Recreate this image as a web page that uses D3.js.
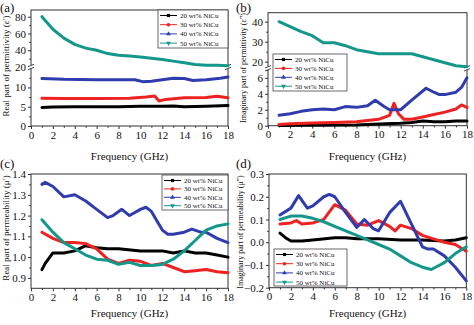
<!DOCTYPE html>
<html>
<head>
<meta charset="utf-8">
<script src="https://cdn.jsdelivr.net/npm/d3@7"></script>
<style>
	body { margin: 0; background: #fff; }
	svg { display: block; }
	svg text { font-family: "Times New Roman", serif; }
	.legend text { font-size: 7px; }
</style>
</head>
<body>
<svg id="chart" width="474" height="325"></svg>
<script>
// ---- data ----
const seriesNames = ['20 wt% NiCu', '30 wt% NiCu', '40 wt% NiCu', '50 wt% NiCu'];
const seriesColors = ['#000000', '#ee2222', '#2f3cae', '#14978b'];
const markerShapes = ['square', 'circle', 'triangle', 'triangleDown'];
const freqTicks = [0, 2, 4, 6, 8, 10, 12, 14, 16, 18];

// (a) real permittivity
const epsReal20 = [[1,4.8],[2,4.9],[4,5.0],[6,5.0],[8,5.0],[10,5.1],[12,5.1],[13,5.2],[14,5.0],[16,5.1],[18,5.3]];
const epsReal30 = [[1,7.2],[3,7.1],[6,7.1],[9,7.2],[10.5,7.5],[11.3,7.8],[11.7,6.5],[12.3,6.9],[14,7.3],[16,7.4],[17,7.7],[18,7.3]];
const epsReal40 = [[1,12.3],[3,12.1],[6,12.0],[9.5,12.0],[10.2,11.5],[11,11.6],[12,12.0],[13,12.4],[14,12.3],[14.8,11.8],[16,12.0],[17.3,12.4],[18,12.7]];
const epsReal50 = [[1,80],[2,65],[3,54.5],[4,47],[5,42.5],[6,40],[7,36],[8,34],[9,33],[10,32],[11,30.5],[12,29],[13,27],[14,25],[15,23],[16,22],[17,22],[18,21.5]];

// (b) imaginary permittivity
const epsImag20 = [[1,0.02],[4,0.05],[8,0.1],[10,0.2],[12,0.3],[13,0.4],[14,0.6],[15,0.5],[16,0.5],[17,0.6],[18,0.6]];
const epsImag30 = [[1,0.15],[2,0.25],[4,0.35],[6,0.4],[8,0.5],[10,0.8],[11,1.3],[11.4,2.8],[11.8,1.5],[12.3,0.8],[13,0.8],[14,1.1],[15,1.4],[16,1.7],[17,2.1],[17.5,2.6],[18,2.3]];
const epsImag40 = [[1,1.3],[2,1.5],[3,1.8],[4,2.0],[5,2.1],[6,2.0],[7,2.4],[8,2.3],[9,2.5],[9.7,3.2],[10.5,2.4],[11,2.0],[12,2.0],[13,3.2],[14.3,4.7],[15,4.2],[15.5,3.9],[16,3.9],[17,4.2],[17.5,4.8],[18,6.0]];
const epsImag50 = [[1,40],[2,37.5],[3,35],[4,33],[5,29.5],[6,29.5],[7,28],[8,26],[9,25],[10,24],[11,24],[12,24],[13,24],[14,22.5],[15,21],[16,19.5],[17,18],[18,17.5]];

// (c) real permeability
const muReal20 = [[1,0.94],[1.3,0.97],[2,1.02],[3,1.02],[4,1.03],[5,1.055],[6,1.045],[7,1.04],[8,1.04],[10,1.03],[12,1.03],[13,1.02],[14,1.03],[15,1.02],[16,1.02],[17,1.01],[18,1.0]];
const muReal30 = [[1,1.12],[2,1.09],[3,1.07],[4,1.07],[5,1.065],[6,1.04],[7,0.99],[8,0.97],[9,0.985],[10,0.98],[11,0.96],[12,0.97],[13,0.95],[14,0.93],[15,0.935],[16,0.94],[17,0.93],[18,0.925]];
const muReal40 = [[1,1.35],[1.3,1.36],[2,1.34],[3,1.29],[4,1.30],[5,1.27],[6,1.23],[7,1.19],[7.5,1.20],[8.3,1.23],[9,1.20],[10,1.23],[10.5,1.24],[11,1.22],[12,1.13],[12.5,1.11],[13,1.11],[14,1.12],[14.7,1.135],[15.5,1.12],[16,1.12],[17,1.09],[18,1.07]];
const muReal50 = [[1,1.18],[2,1.12],[3,1.07],[4,1.04],[5,1.01],[6,0.99],[7,0.985],[8,0.965],[9,0.975],[10,0.96],[11,0.96],[12,0.965],[13,0.99],[14,1.03],[15,1.08],[16,1.13],[17,1.15],[18,1.16]];

// (d) imaginary permeability
const muImag20 = [[1,0.04],[1.5,0.02],[2,0.005],[3,0.005],[4,0.01],[6,0.02],[7,0.02],[8,0.015],[10,0.015],[12,0.01],[14,0.01],[16,0.005],[17,0.01],[18,0.02]];
const muImag30 = [[1,0.08],[2,0.085],[2.5,0.095],[3,0.08],[4,0.085],[5,0.1],[6,0.165],[7,0.14],[8,0.08],[9,0.075],[10,0.095],[11,0.07],[11.5,0.05],[12,0.075],[13,0.06],[14,0.03],[15,0.015],[16,0.0],[17,-0.01],[18,-0.04]];
const muImag40 = [[1,0.12],[2,0.15],[2.7,0.205],[3.5,0.15],[4,0.16],[5,0.2],[5.5,0.21],[6,0.2],[7,0.13],[8,0.065],[8.7,0.1],[9.5,0.06],[10,0.05],[11,0.13],[12,0.18],[13,0.08],[14,-0.02],[14.5,-0.03],[15,-0.03],[16,-0.06],[17,-0.11],[18,-0.17]];
const muImag50 = [[1,0.10],[2,0.115],[3,0.115],[4,0.105],[5,0.09],[6,0.07],[7,0.05],[8,0.03],[9,0.01],[10,-0.01],[11,-0.03],[12,-0.06],[13,-0.09],[14,-0.11],[14.8,-0.12],[16,-0.09],[17,-0.05],[18,-0.02]];

const svg = d3.select('#chart');
const FONT = '"Times New Roman", serif';

const symbolTypes = {
	square: d3.symbolSquare,
	circle: d3.symbolCircle,
	triangle: d3.symbolTriangle,
	triangleDown: d3.symbolTriangle
};

function drawPanel (cfg) {
	const g = svg.append('g');
	const x = d3.scaleLinear().domain([0, 18]).range([cfg.left, cfg.right]);

	// y segments (a broken axis has two)
	const segs = cfg.segments.map(s => ({
		...s,
		scale: d3.scaleLinear().domain(s.domain).range(s.range)
	}));

	// frame
	g.append('rect')
		.attr('x', cfg.left).attr('y', cfg.top)
		.attr('width', cfg.right - cfg.left).attr('height', cfg.bottom - cfg.top)
		.attr('fill', 'none').attr('stroke', '#333').attr('stroke-width', 1);

	// x axis
	const xAxis = g.append('g')
		.attr('transform', `translate(0,${cfg.bottom})`)
		.call(d3.axisBottom(x).tickValues(freqTicks).tickSize(3).tickPadding(2).tickFormat(d3.format('d')));
	xAxis.attr('font-family', null);
	xAxis.select('.domain').remove();
	xAxis.selectAll('text').attr('font-size', 11).attr('fill', '#111');
	xAxis.selectAll('line').attr('stroke', '#333');
	g.append('g')
		.attr('transform', `translate(0,${cfg.bottom})`)
		.call(d3.axisBottom(x).tickValues(d3.range(1, 18, 2)).tickSize(1.8).tickFormat(''))
		.call(a => a.select('.domain').remove())
		.selectAll('line').attr('stroke', '#333');

	// y axes
	segs.forEach(s => {
		const ya = g.append('g')
			.attr('transform', `translate(${cfg.left},0)`)
			.call(d3.axisLeft(s.scale).tickValues(s.ticks).tickSize(3).tickPadding(2).tickFormat(cfg.yFormat));
		ya.attr('font-family', null);
		ya.select('.domain').remove();
		ya.selectAll('text').attr('font-size', 11).attr('fill', '#111');
		ya.selectAll('line').attr('stroke', '#333');
		g.append('g')
			.attr('transform', `translate(${cfg.left},0)`)
			.call(d3.axisLeft(s.scale).tickValues(s.minor).tickSize(1.8).tickFormat(''))
			.call(a => a.select('.domain').remove())
			.selectAll('line').attr('stroke', '#333');
	});

	// break marks
	if (segs.length > 1) {
		const by = segs[0].range[1];
		[cfg.left, cfg.right].forEach(bx => {
			g.append('rect').attr('x', bx - 3).attr('y', by - 1.5).attr('width', 6).attr('height', 3).attr('fill', '#fff');
			[-1.5, 1.5].forEach(dy => {
				g.append('line')
					.attr('x1', bx - 3).attr('y1', by + dy + 1.2)
					.attr('x2', bx + 3).attr('y2', by + dy - 1.2)
					.attr('stroke', '#333').attr('stroke-width', 0.9);
			});
		});
	}

	// curves
	cfg.series.forEach((data, i) => {
		const s = segs[cfg.seriesSeg ? cfg.seriesSeg[i] : 0].scale;
		const line = d3.line().x(d => x(d[0])).y(d => s(d[1]));
		g.append('path')
			.attr('d', line(data))
			.attr('fill', 'none')
			.attr('stroke', seriesColors[i])
			.attr('stroke-width', 3)
			.attr('stroke-linejoin', 'round')
			.attr('stroke-linecap', 'round');
	});

	// legend
	const L = cfg.legend;
	const lg = g.append('g').attr('class', 'legend');
	lg.append('rect')
		.attr('x', L.x).attr('y', L.y).attr('width', L.w).attr('height', L.h)
		.attr('fill', '#fff').attr('stroke', '#444').attr('stroke-width', 0.8);
	seriesNames.forEach((name, i) => {
		const ry = L.y + 5.5 + i * L.step;
		lg.append('line')
			.attr('x1', L.x + 2).attr('x2', L.x + 19)
			.attr('y1', ry).attr('y2', ry)
			.attr('stroke', seriesColors[i]).attr('stroke-width', 1);
		lg.append('path')
			.attr('d', d3.symbol(symbolTypes[markerShapes[i]], 10)())
			.attr('transform', `translate(${L.x + 10.5},${ry})` + (markerShapes[i] === 'triangleDown' ? 'rotate(180)' : ''))
			.attr('fill', seriesColors[i]);
		lg.append('text')
			.attr('x', L.x + 22).attr('y', ry + 2.4)
			.attr('fill', '#111')
			.text(name);
	});

	// labels
	g.append('text')
		.attr('x', (cfg.left + cfg.right) / 2).attr('y', cfg.xLabelY)
		.attr('text-anchor', 'middle').attr('font-size', 11).attr('fill', '#111')
		.text('Frequency (GHz)');
	g.append('text')
		.attr('transform', `translate(${cfg.yLabelX},${cfg.yLabelMid})rotate(-90)`)
		.attr('text-anchor', 'middle').attr('font-size', cfg.yLabelSize).attr('fill', '#111')
		.text(cfg.yLabel);
	g.append('text')
		.attr('x', cfg.tagX).attr('y', cfg.tagY)
		.attr('font-size', 13).attr('fill', '#111')
		.text(cfg.tag);
}

drawPanel({
	tag: '(a)', tagX: 0, tagY: 12,
	left: 31, right: 228, top: 10, bottom: 126,
	segments: [
		{ domain: [0, 15.3], range: [126, 67], ticks: [0, 5, 10], minor: [2.5, 7.5, 12.5] },
		{ domain: [20, 88], range: [67, 10], ticks: [20, 40, 60, 80], minor: [30, 50, 70] }
	],
	seriesSeg: [0, 0, 0, 1],
	yFormat: d3.format('d'),
	series: [epsReal20, epsReal30, epsReal40, epsReal50],
	legend: { x: 158, y: 10, w: 70, h: 38, step: 9.2 },
	xLabelY: 160, yLabelX: 9, yLabelMid: 66, yLabelSize: 9,
	yLabel: 'Real part of permittivity (\u03b5\u2032)'
});

drawPanel({
	tag: '(b)', tagX: 236, tagY: 12,
	left: 268, right: 467, top: 12.7, bottom: 125.7,
	segments: [
		{ domain: [0, 7.2], range: [125.7, 68.3], ticks: [0, 2, 4, 6], minor: [1, 3, 5, 7] },
		{ domain: [16.7, 44.5], range: [68.3, 12.7], ticks: [20, 30, 40], minor: [25, 35] }
	],
	seriesSeg: [0, 0, 0, 1],
	yFormat: d3.format('d'),
	series: [epsImag20, epsImag30, epsImag40, epsImag50],
	legend: { x: 273, y: 54, w: 74, h: 37, step: 8.9 },
	xLabelY: 160, yLabelX: 246, yLabelMid: 68, yLabelSize: 8,
	yLabel: 'Imaginary part of permittivity (\u03b5\u2033)'
});

drawPanel({
	tag: '(c)', tagX: 0, tagY: 168,
	left: 31, right: 228, top: 174, bottom: 288.3,
	segments: [
		{ domain: [0.85, 1.4], range: [288.3, 174], ticks: [0.9, 1.0, 1.1, 1.2, 1.3, 1.4], minor: [0.95, 1.05, 1.15, 1.25, 1.35] }
	],
	yFormat: d3.format('.1f'),
	series: [muReal20, muReal30, muReal40, muReal50],
	legend: { x: 162, y: 175, w: 66, h: 35, step: 8.4 },
	xLabelY: 317, yLabelX: 9, yLabelMid: 228, yLabelSize: 9,
	yLabel: 'Real part of permeability (\u03bc\u2032)'
});

drawPanel({
	tag: '(d)', tagX: 236, tagY: 168,
	left: 269, right: 466.3, top: 174, bottom: 287.7,
	segments: [
		{ domain: [-0.2, 0.3], range: [287.7, 174], ticks: [-0.2, -0.1, 0, 0.1, 0.2, 0.3], minor: [-0.15, -0.05, 0.05, 0.15, 0.25] }
	],
	yFormat: d3.format('.1f'),
	series: [muImag20, muImag30, muImag40, muImag50],
	legend: { x: 274, y: 249, w: 73, h: 37, step: 9.2 },
	xLabelY: 317, yLabelX: 243, yLabelMid: 232, yLabelSize: 8,
	yLabel: 'Imaginary part of permeability (\u03bc\u2033)'
});

// force the serif face on every label
svg.selectAll('text').style('font-family', FONT);
</script>
</body>
</html>
